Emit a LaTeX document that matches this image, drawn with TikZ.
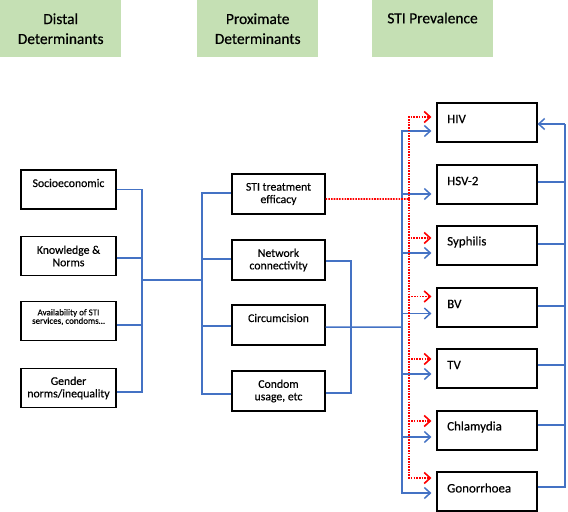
\documentclass[tikz,border=0pt]{standalone}
\usepackage{fontspec}
\setmainfont{Carlito}[FakeBold=0.35]
\usetikzlibrary{arrows.meta}
\definecolor{hdr}{HTML}{C5E0B4}
\definecolor{bl}{HTML}{4472C4}
\begin{document}
\begin{tikzpicture}[x=1bp,y=-1bp,
  hdrbox/.style={fill=hdr, minimum width=121bp, minimum height=57bp, inner sep=0pt,
                 font=\fontsize{15.5}{20}\selectfont, align=center},
  hdrtxt/.style={font=\fontsize{15.5}{20}\selectfont, align=center, inner sep=0pt},
  box/.style={draw=black, line width=1.2bp, fill=white, inner sep=0pt,
              font=\fontsize{11.8}{12.5}\selectfont, align=center},
  lbox/.style={box, minimum width=95bp, minimum height=39bp},
  pbox/.style={box, minimum width=93bp, minimum height=40bp},
  sbox/.style={box, minimum width=100bp, minimum height=39bp},
  txt/.style={font=\fontsize{11.8}{12.5}\selectfont, align=center, inner sep=0pt},
  smalltxt/.style={font=\fontsize{9}{8.5}\selectfont, align=center, inner sep=0pt},
  stxt/.style={font=\fontsize{13}{14}\selectfont, anchor=west, inner sep=0pt},
  blink/.style={draw=bl, line width=1.5bp},
  barrow/.style={blink, -{Straight Barb[length=6bp,width=11bp]}},
  rlink/.style={draw=red, line width=1.6bp, dash pattern=on 1.6bp off 1.1bp},
  rarrow/.style={rlink, -{Straight Barb[length=6bp,width=11bp]}},
]
\useasboundingbox (0,0) rectangle (568,512);

% headers
\node[hdrbox, anchor=north west] (hdist) at (0,0) {Distal\\Determinants};
\node[hdrbox, anchor=north west] (hprox) at (197,0) {Proximate\\Determinants};
\node[hdrbox, anchor=north west] (hsti) at (372,0) {};
\node[hdrtxt] (hstit) at (432.5,18) {STI Prevalence};

% distal boxes
\node[lbox] (soc) at (68.5,189.5) {};
\node[txt] (soct) at (68.5,183) {Socioeconomic};
\node[lbox] (know) at (68.5,256) {Knowledge \&\\Norms};
\node[lbox] (avail) at (68.5,321) {};
\node[smalltxt] (availt) at (68.5,317) {Availability of STI\\services, condoms…};
\node[lbox] (gend) at (68.5,388) {Gender\\norms/inequality};

% proximate boxes
\node[pbox] (ste) at (278.5,194) {STI treatment\\efficacy};
\node[pbox] (net) at (278.5,260) {Network\\connectivity};
\node[pbox] (circ) at (278.5,325) {};
\node[txt] (circt) at (278.5,318) {Circumcision};
\node[pbox] (cond) at (278.5,391) {Condom\\usage, etc};

% STI boxes
\node[sbox] (hiv) at (487,122.5) {};
\node[stxt] (hivt) at (447,119) {HIV};
\node[sbox] (hsv) at (487,184.5) {};
\node[stxt] (hsvt) at (447,181) {HSV-2};
\node[sbox] (syph) at (487,245.5) {};
\node[stxt] (sypht) at (447,242) {Syphilis};
\node[sbox] (bv) at (487,307.5) {};
\node[stxt] (bvt) at (447,304) {BV};
\node[sbox] (tv) at (487,368.5) {};
\node[stxt] (tvt) at (447,365) {TV};
\node[sbox] (chl) at (487,430.5) {};
\node[stxt] (chlt) at (447,427) {Chlamydia};
\node[sbox] (gon) at (487,491.5) {};
\node[stxt] (gont) at (447,488) {Gonorrhoea};

% bus coordinates
\coordinate (lbus) at (142,280);
\coordinate (pbus) at (202,280);
\coordinate (rbus) at (351,327);
\coordinate (sbus) at (402,327);
\coordinate (rdbus) at (409,199);
\coordinate (rtop) at (565,124);

% distal -> proximate
\draw[blink] (soc.east) -| (lbus);
\draw[blink] ([yshift=-2bp]know.east) -| (lbus);
\draw[blink] ([yshift=-4bp]avail.east) -| (lbus);
\draw[blink] ([yshift=-4bp]gend.east) -| (lbus);
\draw[blink] (lbus) -- (pbus);
\draw[blink] (pbus) |- ([yshift=1bp]ste.west);
\draw[blink] (pbus) |- ([yshift=1bp]net.west);
\draw[blink] (pbus) |- ([yshift=-1bp]circ.west);
\draw[blink] (pbus) |- ([yshift=-3bp]cond.west);

% proximate -> STI
\draw[blink] ([yshift=-1bp]net.east) -| (rbus);
\draw[blink] ([yshift=-2bp]cond.east) -| (rbus);
\draw[blink] ([yshift=-2bp]circ.east) -- (sbus);

% blue arrows
\draw[barrow, shorten >=5bp] (sbus) |- ([yshift=-8.5bp]hiv.west);
\draw[barrow, shorten >=5bp] (sbus) |- ([yshift=-9.5bp]hsv.west);
\draw[barrow, shorten >=5bp] (sbus) |- ([yshift=-7.5bp]syph.west);
\draw[barrow, shorten >=5bp] (sbus) |- ([yshift=-6bp]bv.west);
\draw[barrow, shorten >=5bp] (sbus) |- ([yshift=-5.5bp]tv.west);
\draw[barrow, shorten >=5bp] (sbus) |- ([yshift=-6.5bp]chl.west);
\draw[barrow, shorten >=5bp] (sbus) |- ([yshift=-1.5bp]gon.west);

% red dotted
\draw[rlink] ([yshift=-5bp]ste.east) -- (rdbus);
\draw[rarrow, shorten >=5bp] (rdbus) |- ([yshift=5.5bp]hiv.west);
\draw[rarrow, shorten >=5bp] (rdbus) |- ([yshift=7.5bp]syph.west);
\draw[rarrow, shorten >=5bp] (rdbus) |- ([yshift=11bp]bv.west);
\draw[rarrow, shorten >=5bp] (rdbus) |- ([yshift=9.5bp]tv.west);
\draw[rarrow, shorten >=5bp] (rdbus) |- ([yshift=9.5bp]chl.west);
\draw[rarrow, shorten >=5bp] (rdbus) |- ([yshift=13.5bp]gon.west);

% right feedback bus
\draw[blink] ([yshift=2.5bp]hsv.east) -| (rtop);
\draw[blink] ([yshift=1.5bp]syph.east) -| (rtop);
\draw[blink] ([yshift=1.5bp]bv.east) -| (rtop);
\draw[blink] ([yshift=3.5bp]tv.east) -| (rtop);
\draw[blink] ([yshift=5.5bp]chl.east) -| (rtop);
\draw[blink] ([yshift=4.5bp]gon.east) -| (rtop);
\draw[barrow] (rtop) -- (hiv.east |- rtop);
\end{tikzpicture}
\end{document}
